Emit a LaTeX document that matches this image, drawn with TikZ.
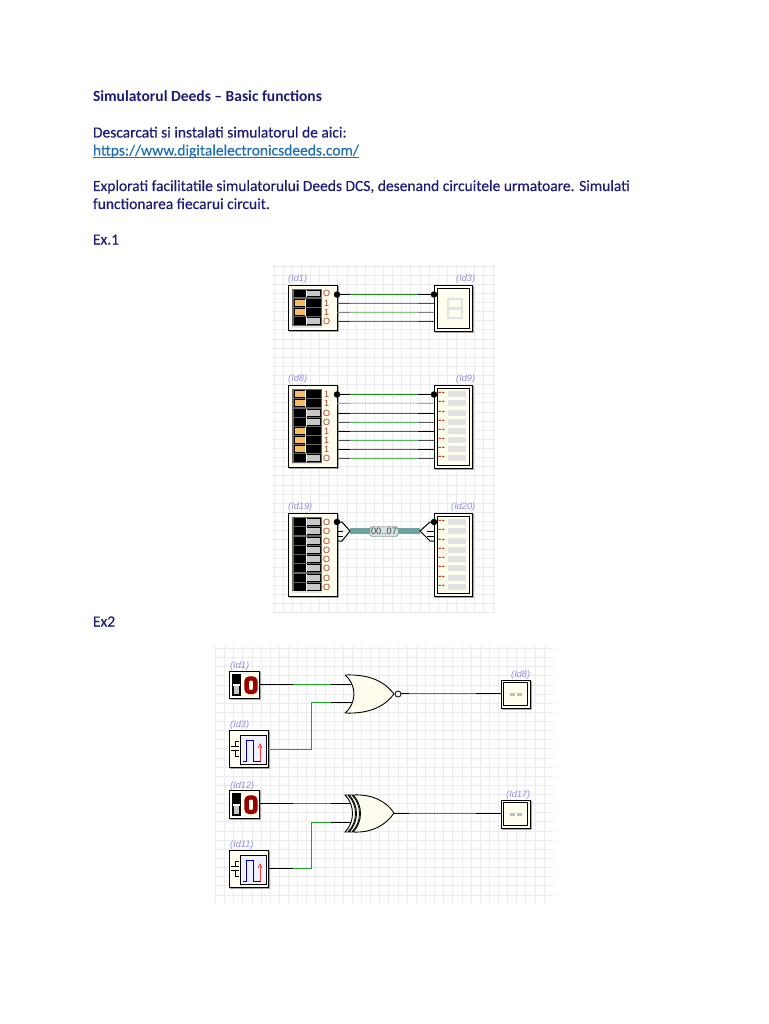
\documentclass[tikz,border=0pt]{standalone}
\usepackage{fontspec}
\setmainfont{Carlito}
\newfontfamily\medf{Carlito}[FakeBold=0.2]
\newfontfamily\lab{Liberation Sans}
\usetikzlibrary{calc}
\definecolor{navy}{HTML}{1B1B78}
\definecolor{linkb}{HTML}{1F6FB5}
\definecolor{gridc}{HTML}{EBEBEB}
\definecolor{cream}{HTML}{FFFDEE}
\definecolor{wireg}{HTML}{25A025}
\definecolor{idc}{HTML}{8E8EE6}
\definecolor{bitc}{HTML}{A83A20}
\definecolor{orangeb}{HTML}{F6BC62}
\definecolor{ledgray}{HTML}{E2E2E2}
\definecolor{busc}{HTML}{6FA3A3}
\tikzset{
  x=1pt,y=-1pt,
  doc/.style={anchor=base west,inner sep=0pt,outer sep=0pt,text=navy,font=\medf\fontsize{15.5}{17}\selectfont},
  idl/.style={anchor=base west,inner sep=0pt,text=idc,font=\lab\itshape\fontsize{9.2}{10}\selectfont},
  bitl/.style={inner sep=0pt,text=bitc,font=\lab\fontsize{9}{9}\selectfont},
  devbox/.style={draw=black,line width=1pt,fill=cream},
  gategate/.style={draw=black,line width=.9pt,fill=cream,line join=round},
  pin/.style={fill=black,draw=none,circle,inner sep=0pt,minimum size=6.5pt},
  greenw/.style={draw=wireg,line width=1.7pt},
}
% device box with right/bottom shadow: name, x0,y0,x1,y1
\newcommand\dbox[5]{%
  \fill[gray!70] (#2+1,#3+1) rectangle (#4+1.6,#5+1.6);
  \node[devbox,anchor=north west,minimum width=#4-#2,minimum height=#5-#3,inner sep=0pt,outer sep=0pt] (#1) at (#2,#3) {};
}
% one dip row: y, value
\newcommand\diprow[2]{%
  \ifnum#2=0
    \fill[black] (293.5,#1-3.8) rectangle (320.5,#1+3.8);
    \fill[black!22] (307,#1-2.8) rectangle (319.5,#1+2.8);
    \fill[white] (306,#1-3.8) rectangle (306.9,#1+3.8);
    \node[bitl] at (326.5,#1) {O};
  \else
    \fill[black] (293.5,#1-3.8) rectangle (320.5,#1+3.8);
    \fill[orangeb] (294.5,#1-2.8) rectangle (305,#1+2.8);
    \fill[white] (305,#1-3.8) rectangle (305.9,#1+3.8);
    \node[bitl] at (326.5,#1) {1};
  \fi
}
% one led-bar row: y
\newcommand\barrow[1]{%
  \fill[ledgray] (448,#1-3.4) rectangle (466,#1+3.4);
  \node[inner sep=0pt,text=bitc!85!orange,font=\lab\bfseries\fontsize{10}{8}\selectfont] at (441.5,#1) {--};
}
% wire of three parts: from, to, outer colour, inner colour, width
\newcommand\gwire[5]{%
  \draw[line width=#5,draw=#3] (#1) -- ($(#1)+(13,0)$);
  \draw[line width=#5+.4pt,draw=#4] ($(#1)+(13,0)$) -- ($(#2)+(-16,0)$);
  \draw[line width=#5,draw=#3] ($(#2)+(-16,0)$) -- (#2);
}
\newcommand\swbox[3]{% name, y0 , y1  (Ex2 switch)
  \dbox{#1}{229}{#2}{259}{#3}
  \fill[black] (232,#2+2.5) rectangle (241,#3-2.5);
  \fill[black!22] (234,#3-12) rectangle (239,#3-4);
  \fill[white] (233,#3-14) rectangle (240,#3-12.5);
  \draw[line width=4.4pt,draw=red!60!black,rounded corners=3pt] (246.6,#2+7.5) rectangle (255.4,#3-6);
}
\newcommand\clkbox[3]{% name, y0, y1
  \dbox{#1}{229}{#2}{268}{#3}
  \fill[black!45] (241.5,#2+6) rectangle (267,#3-2);
  \draw[line width=1pt,black,fill=white!94!blue] (240.5,#2+5) rectangle (266,#3-3);
  \draw[black,line width=.9pt] (239,#2+11) -- (235,#2+11) -- (235,#2+16) (231,#2+16) -- (239,#2+16);
  \draw[black,line width=.9pt] (231,#2+20) -- (239,#2+20) (235,#2+20) -- (235,#2+26) -- (239,#2+26);
  \draw[blue!70!black,line width=1pt] (243,#3-6) -- (246,#3-6) -- (246,#2+10) -- (253,#2+10) -- (253,#3-6) -- (261,#3-6);
  \draw[red!75,line width=.9pt] (260,#3-6) -- (260,#2+14);
  \draw[red!75,line width=.8pt] (258,#2+18) -- (260,#2+14) -- (262,#2+18);
}
\newcommand\ledbox[3]{% name, y0, y1
  \dbox{#1}{501}{#2}{530}{#3}
  \draw[black,line width=.8pt] (503.5,#2+2.5) rectangle (527.5,#3-2.5);
  \fill[black!25] (510,{(#2+#3)/2-1.5}) rectangle (514.5,{(#2+#3)/2+1.5});
  \fill[black!25] (517,{(#2+#3)/2-1.5}) rectangle (521.5,{(#2+#3)/2+1.5});
}
\newcommand\frameb[4]{% inner frame of the display boxes
  \draw[black,line width=.9pt] (#1,#2) rectangle (#3,#4);
}
\begin{document}
\begin{tikzpicture}
\useasboundingbox (0,0) rectangle (768,1024);
\fill[white] (0,0) rectangle (768,1024);
% text
\node[doc,font=\bfseries\fontsize{15.5}{17}\selectfont] (title) at (93,101.5) {Simulatorul Deeds – Basic functions};
\node[doc] (dl) at (93,137.5) {Descarcati si instalati simulatorul de aici:};
\node[doc,text=linkb] (url) at (93,155.5) {https://www.digitalelectronicsdeeds.com/};
\draw[linkb,line width=.9pt] ($(url.base west)+(0,2)$) -- ($(url.base east)+(0,2)$);
\node[doc] (ex) at (93,191) {Explorati facilitatile simulatorului Deeds DCS, desenand circuitele urmatoare. Simulati};
\node[doc] (ex2) at (93,209) {functionarea fiecarui circuit.};
\node[doc] (e1) at (93,244.5) {Ex.1};
\node[doc] (e2) at (93,626.5) {Ex2};
% grids
\begin{scope}
  \clip (272,265) rectangle (495,612);
  \foreach \i in {0,...,25} \draw[gridc,line width=1pt] (274+\i*9.13,265) -- (274+\i*9.13,612);
  \foreach \i in {0,...,38} \draw[gridc,line width=1pt] (272,266+\i*9.13) -- (495,266+\i*9.13);
\end{scope}
\begin{scope}
  \clip (214,646) rectangle (553,903);
  \foreach \i in {0,...,37} \draw[gridc,line width=1pt] (215.5+\i*9.13,646) -- (215.5+\i*9.13,903);
  \foreach \i in {0,...,28} \draw[gridc,line width=1pt] (214,648.5+\i*9.13) -- (553,648.5+\i*9.13);
\end{scope}
% --- Ex1 first
\node[idl] (l1) at (288,281.5) {(Id1)};
\node[idl] (l3) at (456,281.5) {(Id3)};
\dbox{d1}{288}{285}{337}{330}
\fill[black!60] (292,289) rectangle (322,327);
\fill[black!10] (292,326) rectangle (322,327.5);
\diprow{293.5}{0}\diprow{303}{1}\diprow{312}{1}\diprow{321}{0}
\dbox{s1}{434}{285}{472}{331}
\frameb{437}{288}{469}{328}
\draw[ledgray,line width=2.6pt,line join=round] (448,299) rectangle (462,318);
\draw[ledgray,line width=2.6pt] (448,308.5) -- (462,308.5);
\foreach \n/\y in {1/294.5,2/303.5,3/312.5,4/321.5}{
  \coordinate (a\n) at (337,\y); \coordinate (b\n) at (434,\y);}
\gwire{a1}{b1}{black}{wireg!85!black}{1.1pt}
\gwire{a2}{b2}{black!70}{wireg!90}{1.5pt}
\gwire{a3}{b3}{black!50}{wireg!55}{1.1pt}
\gwire{a4}{b4}{black!80}{wireg}{1.4pt}
\node[pin] at (a1) {};\node[pin] at (b1) {};
% --- Ex1 second
\node[idl] (l8) at (288,381) {(Id8)};
\node[idl] (l9) at (456,381) {(Id9)};
\dbox{d2}{288}{385}{337}{467}
\fill[black!60] (292,389) rectangle (322,463);
\fill[black!10] (292,462.5) rectangle (322,464);
\diprow{394}{1}\diprow{403}{1}\diprow{413}{0}\diprow{422}{0}\diprow{431}{1}\diprow{440}{1}\diprow{449}{1}\diprow{458}{0}
\dbox{s2}{434}{385}{472}{468}
\frameb{437}{388}{469}{465}
\foreach \y in {394,403,413,422,431,440,449,458}{\barrow{\y}}
\foreach \n/\y in {1/394.5,2/403.5,3/413.5,4/422.5,5/431.5,6/440.5,7/449.5,8/458.5}{
  \coordinate (c\n) at (337,\y); \coordinate (e\n) at (434,\y);}
\gwire{c1}{e1}{black}{wireg!85!black}{1.1pt}
\gwire{c2}{e2}{black!35}{wireg!30}{1.5pt}
\gwire{c3}{e3}{black}{wireg!85!black}{1.1pt}
\gwire{c4}{e4}{black!65}{wireg!75}{1.4pt}
\gwire{c5}{e5}{black}{wireg!85!black}{1.1pt}
\gwire{c6}{e6}{black!70}{wireg!75}{1.4pt}
\gwire{c7}{e7}{black}{wireg!85!black}{1.1pt}
\gwire{c8}{e8}{black!70}{wireg!75}{1.4pt}
\node[pin] at (c1) {};\node[pin] at (e1) {};
% --- Ex1 third
\node[idl] (l19) at (288,509.5) {(Id19)};
\node[idl] (l20) at (451,509.5) {(Id20)};
\dbox{d3}{288}{513}{337}{596}
\fill[black!60] (292,517) rectangle (322,591);
\fill[black!10] (292,591) rectangle (322,592.5);
\foreach \y in {522,531,541,550,559,568,578,587}{\diprow{\y}{0}}
\dbox{s3}{434}{513}{472}{596}
\frameb{437}{516}{469}{593}
\foreach \y in {522,531,541,550,559,568,578,587}{\barrow{\y}}
\coordinate (bl) at (350,531); \coordinate (br) at (420,531);
\draw[busc,line width=6pt] (bl) -- (br);
\node[draw=black!60,fill=busc!30,rounded corners=2.5pt,inner sep=0pt,minimum width=28pt,minimum height=10pt,font=\lab\fontsize{9.3}{9}\selectfont,text=black!75] (bus) at (384,531.5) {00..07};
\coordinate (f1) at (337,522);\coordinate (f2) at (337,531);\coordinate (f3) at (337,541);\coordinate (f4) at (337,536);
\coordinate (h1) at (434,522);\coordinate (h2) at (434,531);\coordinate (h3) at (434,541);\coordinate (h4) at (434,536);
\draw[black,line width=1pt] (f1) -- (342,522) -- (bl) -- (342,541) -- (f3);
\draw[black,line width=1pt] (f2) -- (343,531) (f4) -- (343,536);
\draw[black,line width=1pt] (h1) -- (430,522) -- (br) -- (430,541) -- (h3);
\draw[black,line width=1pt] (h2) -- (427,531) (h4) -- (427,536);
\node[pin] at (f1) {};\node[pin] at (h1) {};
% --- Ex2 first
\node[idl] (m1) at (230,668.5) {(Id1)};
\node[idl] (m3) at (230,727.5) {(Id3)};
\node[idl] (m8) at (511,677) {(Id8)};
\swbox{sw1}{671}{698}
\clkbox{ck1}{730}{767}
\ledbox{led1}{680}{708}
\coordinate (g1a) at (352,684.5); \coordinate (g1b) at (352,702.5); \coordinate (g1o) at (401,693.5);
\coordinate (w1) at (259,684.5); \coordinate (w3) at (268,749.5);
\draw[black,line width=1.1pt] (w1) -- (293,684.5) (331,684.5) -- (g1a);
\draw[greenw] (293,684.5) -- (331,684.5);
\draw[black!55,line width=1.1pt] (w3) -- (293,749.5);
\draw[greenw] (293,749.5) -- (311.5,749.5) -- (311.5,702.5) -- (331,702.5);
\draw[black,line width=1.1pt] (331,702.5) -- (g1b);
\draw[black,line width=1.1pt] (g1o) -- (409,693.5) (476,693.5) -- (led1.west|-g1o);
\draw[greenw] (409,693.5) -- (476,693.5);
\path[gategate] (345,675) .. controls (370,674) and (385,682) .. (394,694) .. controls (385,706) and (370,714) .. (345,713) .. controls (357,703) and (357,685) .. (345,675) -- cycle;
\draw[black,line width=.8pt,fill=white] (398,694) circle (3);
% --- Ex2 second
\node[idl] (m12) at (230,788) {(Id12)};
\node[idl] (m11) at (230,847.5) {(Id11)};
\node[idl] (m17) at (506,797) {(Id17)};
\swbox{sw2}{790}{818}
\clkbox{ck2}{850}{887}
\ledbox{led2}{800}{828}
\coordinate (g2a) at (352,803.5); \coordinate (g2b) at (352,822.5); \coordinate (g2o) at (394,813.5);
\coordinate (w12) at (259,803.5); \coordinate (w11) at (268,868.5);
\draw[black,line width=1.1pt] (w12) -- (293,803.5) (331,803.5) -- (g2a);
\draw[greenw] (293,803.5) -- (331,803.5);
\draw[black,line width=1.1pt] (w11) -- (293,868.5);
\draw[greenw] (293,868.5) -- (311.5,868.5) -- (311.5,822.5) -- (331,822.5);
\draw[black,line width=1.1pt] (331,822.5) -- (g2b);
\draw[black,line width=1.1pt] (g2o) -- (409,813.5) (476,813.5) -- (led2.west|-g2o);
\draw[greenw] (409,813.5) -- (476,813.5);
\path[gategate] (353,795) .. controls (372,794) and (386,801) .. (394,813) .. controls (386,825) and (372,833) .. (353,832) .. controls (363,822) and (363,805) .. (353,795) -- cycle;
\draw[black,line width=.9pt,fill=cream] (349,795) .. controls (359,805) and (359,822) .. (349,832) -- (352,832) .. controls (362,822) and (362,805) .. (352,795) -- cycle;
\draw[black,line width=.9pt,fill=cream] (345,795) .. controls (355,805) and (355,822) .. (345,832) -- (348,832) .. controls (358,822) and (358,805) .. (348,795) -- cycle;
\end{tikzpicture}
\end{document}
